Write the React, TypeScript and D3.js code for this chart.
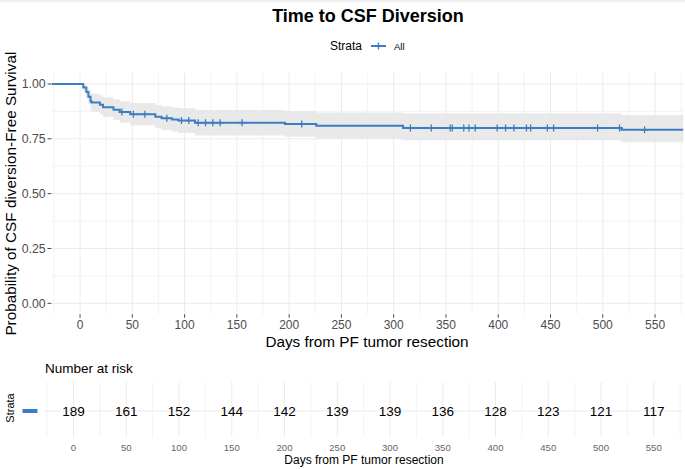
import React from "react";
import * as d3 from "d3";

// Kaplan-Meier estimate: step times (days) and survival after each step
const stepTimes = [-27, 3, 6, 8, 10, 11, 19, 22, 32, 38, 48, 72, 78, 88, 94, 110, 196, 226, 309, 518, 577];
const survival = [1, 0.984, 0.963, 0.942, 0.921, 0.915, 0.905, 0.894, 0.883, 0.872, 0.862, 0.851, 0.844, 0.838, 0.833, 0.823, 0.818, 0.809, 0.799, 0.791, 0.791];
const lowerCI = [1, 0.966, 0.936, 0.909, 0.882, 0.875, 0.862, 0.849, 0.836, 0.823, 0.811, 0.798, 0.79, 0.783, 0.777, 0.765, 0.759, 0.75, 0.743, 0.734, 0.734];
const upperCI = [1, 1, 0.99, 0.975, 0.96, 0.955, 0.948, 0.939, 0.93, 0.921, 0.913, 0.904, 0.898, 0.893, 0.889, 0.881, 0.877, 0.87, 0.866, 0.859, 0.859];

// censored observations (days)
const censorTimes = [40, 51, 62, 83, 97, 104, 113, 120, 127, 134, 155, 212, 316, 336, 354, 356, 367, 372, 378, 399, 407, 415, 427, 431, 447, 453, 495, 516, 540];

// number at risk table
const riskTimes = [0, 50, 100, 150, 200, 250, 300, 350, 400, 450, 500, 550];
const riskCounts = [189, 161, 152, 144, 142, 139, 139, 136, 128, 123, 121, 117];

const yTicks = [0, 0.25, 0.5, 0.75, 1];
const yMinor = [0.125, 0.375, 0.625, 0.875];
const xTicks = riskTimes;
const xMinor = [-25, 25, 75, 125, 175, 225, 275, 325, 375, 425, 475, 525, 575];

const W = 685;
const H = 469;
const FONT = "'Liberation Sans', Arial, sans-serif";
const LINE = "#3D7EC2";
const GRID = "#EBEBEB";
const TICK_TXT = "#4D4D4D";

const x = d3.scaleLinear().domain([-27.5, 577.5]).range([51.3, 683.8]);
const y = d3.scaleLinear().domain([-0.05, 1.05]).range([314.3, 73]);
const xr = d3.scaleLinear().domain([-27.5, 577.5]).range([44.5, 682.8]);
const riskTop = 382;
const riskBottom = 437;
const riskY = 411;

const pts = stepTimes.map((t, i) => ({ t, s: survival[i], lo: lowerCI[i], hi: upperCI[i] }));

const survLine = d3.line<any>().x(d => x(d.t)).y(d => y(d.s)).curve(d3.curveStepAfter);
const band = d3.area<any>().x(d => x(d.t)).y0(d => y(d.lo)).y1(d => y(d.hi)).curve(d3.curveStepAfter);

const bisect = d3.bisector((d: any) => d.t).right;
const survAt = (t: number) => pts[Math.max(0, bisect(pts, t) - 1)].s;

export default function App() {
    const panelL = x.range()[0];
    const panelR = x.range()[1];
    const panelT = y.range()[1];
    const panelB = y.range()[0];

    return (
        <svg width={W} height={H} style={{ position: "absolute", left: 0, top: 0, background: "#fff" }} fontFamily={FONT}>
            <rect x={0} y={0} width={W} height={2} fill="#EFEFEF" />
            <defs>
                <clipPath id="panel">
                    <rect x={panelL} y={panelT} width={panelR - panelL} height={panelB - panelT} />
                </clipPath>
            </defs>

            {/* title and legend */}
            <text x={368} y={21.5} textAnchor="middle" fontSize={18} fontWeight="bold" fill="#000">Time to CSF Diversion</text>
            <text x={346} y={50} textAnchor="middle" fontSize={12} fill="#000">Strata</text>
            <line x1={371} x2={386} y1={46} y2={46} stroke={LINE} strokeWidth={2} />
            <line x1={378.5} x2={378.5} y1={42.5} y2={49.5} stroke={LINE} strokeWidth={1.4} />
            <text x={394} y={49.5} fontSize={9.5} fill="#000">All</text>

            {/* main panel grid */}
            <g>
                {yMinor.map(v => <line key={"ym" + v} x1={panelL} x2={panelR} y1={y(v)} y2={y(v)} stroke={GRID} strokeWidth={0.6} />)}
                {xMinor.map(v => <line key={"xm" + v} x1={x(v)} x2={x(v)} y1={panelT} y2={panelB} stroke={GRID} strokeWidth={0.6} />)}
                {yTicks.map(v => <line key={"y" + v} x1={panelL} x2={panelR} y1={y(v)} y2={y(v)} stroke={GRID} strokeWidth={1} />)}
                {xTicks.map(v => <line key={"x" + v} x1={x(v)} x2={x(v)} y1={panelT} y2={panelB} stroke={GRID} strokeWidth={1} />)}
            </g>

            {/* survival curve with confidence band and censor marks */}
            <g clipPath="url(#panel)">
                <path d={band(pts) || ""} fill="#E5E5E5" fillOpacity={0.85} />
                <path d={survLine(pts) || ""} fill="none" stroke={LINE} strokeWidth={2} />
                {censorTimes.map((t, i) => {
                    const cx = x(t);
                    const cy = y(survAt(t));
                    return (
                        <g key={"c" + i} stroke={LINE} strokeWidth={1.3}>
                            <line x1={cx} x2={cx} y1={cy - 3.5} y2={cy + 3.5} />
                            <line x1={cx - 3.5} x2={cx + 3.5} y1={cy} y2={cy} />
                        </g>
                    );
                })}
            </g>

            {/* axes */}
            {yTicks.map(v => (
                <g key={"yt" + v}>
                    <line x1={47.5} x2={51.3} y1={y(v)} y2={y(v)} stroke="#333" strokeWidth={0.9} />
                    <text x={45.7} y={y(v) + 4.3} textAnchor="end" fontSize={12.3} fill={TICK_TXT}>{d3.format(".2f")(v)}</text>
                </g>
            ))}
            {xTicks.map(v => (
                <g key={"xt" + v}>
                    <line x1={x(v)} x2={x(v)} y1={panelB} y2={panelB + 3.5} stroke="#333" strokeWidth={0.9} />
                    <text x={x(v)} y={329} textAnchor="middle" fontSize={12} fill={TICK_TXT}>{v}</text>
                </g>
            ))}
            <text x={367} y={347} textAnchor="middle" fontSize={15.3} fill="#000">Days from PF tumor resection</text>
            <text transform={`translate(15.5, ${(panelT + panelB) / 2}) rotate(-90)`} textAnchor="middle" fontSize={15.3} fill="#000">
                Probability of CSF diversion-Free Survival
            </text>

            {/* number at risk table */}
            <text x={45} y={373} fontSize={13.5} fill="#000">Number at risk</text>
            <g>
                {xMinor.map(v => <line key={"rm" + v} x1={xr(v)} x2={xr(v)} y1={riskTop} y2={riskBottom} stroke={GRID} strokeWidth={0.6} />)}
                {xTicks.map(v => <line key={"r" + v} x1={xr(v)} x2={xr(v)} y1={riskTop} y2={riskBottom} stroke={GRID} strokeWidth={1} />)}
                <line x1={xr.range()[0]} x2={xr.range()[1]} y1={riskY} y2={riskY} stroke={GRID} strokeWidth={1} />
            </g>
            {riskTimes.map((t, i) => (
                <text key={"n" + t} x={xr(t)} y={riskY + 5} textAnchor="middle" fontSize={13.5} fill="#000">{riskCounts[i]}</text>
            ))}
            {riskTimes.map(t => (
                <text key={"rt" + t} x={xr(t)} y={451} textAnchor="middle" fontSize={9.6} fill="#666">{t}</text>
            ))}
            <rect x={22.5} y={409} width={15} height={4} fill={LINE} />
            <text transform={`translate(14, ${riskY - 3}) rotate(-90)`} textAnchor="middle" fontSize={11} fill="#000">Strata</text>
            <text x={364} y={464} textAnchor="middle" fontSize={12} fill="#000">Days from PF tumor resection</text>
        </svg>
    );
}
